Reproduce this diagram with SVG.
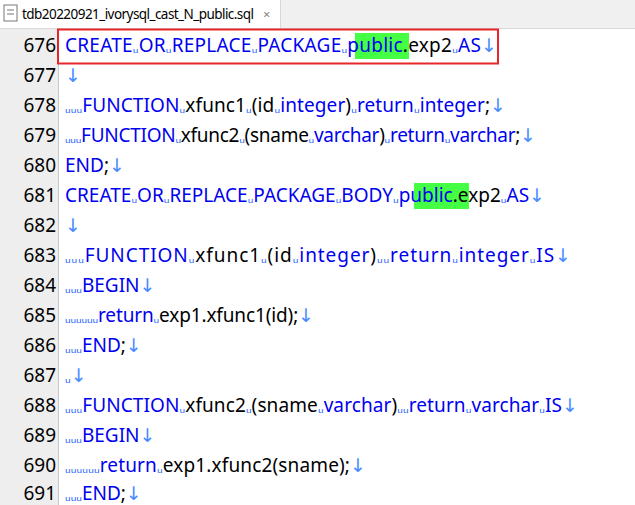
<svg xmlns="http://www.w3.org/2000/svg" width="635" height="505" viewBox="0 0 635 505">
<style>
text{font-family:"Noto Sans","DejaVu Sans",sans-serif;font-size:19px;fill:#000}
.num{text-anchor:end;fill:#000}
.k{fill:#0000f0}
.s{fill:#2060ff;font-size:14px}
.n{fill:#4a8cff}
</style>
<rect width="635" height="505" fill="#fff"/>
<rect x="0" y="0" width="635" height="29" fill="#f0f0f0"/>
<rect x="0" y="0" width="280" height="29" fill="#fff"/>
<line x1="0" y1="28.5" x2="635" y2="28.5" stroke="#d8d8d8"/>
<line x1="280.5" y1="0" x2="280.5" y2="29" stroke="#d8d8d8"/>
<g id="tab">
<rect x="4" y="5" width="13" height="16" fill="#fff" stroke="#777"/>
<line x1="7" y1="10" x2="14" y2="10" stroke="#777"/><line x1="7" y1="14" x2="14" y2="14" stroke="#777"/>
<text x="22" y="19" style="font-size:13.5px" textLength="232">tdb20220921_ivorysql_cast_N_public.sql</text>
<text x="263" y="19" style="font-size:13px;fill:#888">×</text>
</g>
<rect x="0" y="29" width="58" height="476" fill="#eeeeee"/>
<line x1="58.5" y1="29" x2="58.5" y2="505" stroke="#c8c8c8"/>
<rect x="355" y="33" width="54" height="26" fill="#44ff44"/>
<rect x="414" y="183" width="55" height="26" fill="#44ff44"/>
<g id="gutter">
<text class="num" x="56" y="52">676</text><text class="num" x="56" y="82">677</text><text class="num" x="56" y="112">678</text><text class="num" x="56" y="142">679</text><text class="num" x="56" y="172">680</text><text class="num" x="56" y="202">681</text><text class="num" x="56" y="232">682</text><text class="num" x="56" y="262">683</text><text class="num" x="56" y="292">684</text><text class="num" x="56" y="322">685</text><text class="num" x="56" y="352">686</text><text class="num" x="56" y="382">687</text><text class="num" x="56" y="412">688</text><text class="num" x="56" y="442">689</text><text class="num" x="56" y="472">690</text><text class="num" x="56" y="500">691</text>
</g>
<g id="code">
<text x="65" y="52" textLength="432"><tspan class="k">CREATE</tspan><tspan class="s">ᵤ</tspan><tspan class="k">OR</tspan><tspan class="s">ᵤ</tspan><tspan class="k">REPLACE</tspan><tspan class="s">ᵤ</tspan><tspan class="k">PACKAGE</tspan><tspan class="s">ᵤ</tspan><tspan class="k">public</tspan>.exp2<tspan class="s">ᵤ</tspan><tspan class="k">AS</tspan><tspan class="n">↓</tspan></text>
<text x="65" y="82"><tspan class="n">↓</tspan></text>
<text x="65" y="112" textLength="441"><tspan class="s">ᵤᵤᵤ</tspan><tspan class="k">FUNCTION</tspan><tspan class="s">ᵤ</tspan>xfunc1<tspan class="s">ᵤ</tspan>(id<tspan class="s">ᵤ</tspan><tspan class="k">integer</tspan>)<tspan class="s">ᵤ</tspan><tspan class="k">return</tspan><tspan class="s">ᵤ</tspan><tspan class="k">integer</tspan>;<tspan class="n">↓</tspan></text>
<text x="65" y="142" textLength="471"><tspan class="s">ᵤᵤᵤ</tspan><tspan class="k">FUNCTION</tspan><tspan class="s">ᵤ</tspan>xfunc2<tspan class="s">ᵤ</tspan>(sname<tspan class="s">ᵤ</tspan><tspan class="k">varchar</tspan>)<tspan class="s">ᵤ</tspan><tspan class="k">return</tspan><tspan class="s">ᵤ</tspan><tspan class="k">varchar</tspan>;<tspan class="n">↓</tspan></text>
<text x="65" y="172"><tspan class="k">END</tspan>;<tspan class="n">↓</tspan></text>
<text x="65" y="202" textLength="480"><tspan class="k">CREATE</tspan><tspan class="s">ᵤ</tspan><tspan class="k">OR</tspan><tspan class="s">ᵤ</tspan><tspan class="k">REPLACE</tspan><tspan class="s">ᵤ</tspan><tspan class="k">PACKAGE</tspan><tspan class="s">ᵤ</tspan><tspan class="k">BODY</tspan><tspan class="s">ᵤ</tspan><tspan class="k">public</tspan>.exp2<tspan class="s">ᵤ</tspan><tspan class="k">AS</tspan><tspan class="n">↓</tspan></text>
<text x="65" y="232"><tspan class="n">↓</tspan></text>
<text x="65" y="262" textLength="506"><tspan class="s">ᵤᵤᵤ</tspan><tspan class="k">FUNCTION</tspan><tspan class="s">ᵤ</tspan>xfunc1<tspan class="s">ᵤ</tspan>(id<tspan class="s">ᵤ</tspan><tspan class="k">integer</tspan>)<tspan class="s">ᵤᵤ</tspan><tspan class="k">return</tspan><tspan class="s">ᵤ</tspan><tspan class="k">integer</tspan><tspan class="s">ᵤ</tspan><tspan class="k">IS</tspan><tspan class="n">↓</tspan></text>
<text x="65" y="292"><tspan class="s">ᵤᵤᵤ</tspan><tspan class="k">BEGIN</tspan><tspan class="n">↓</tspan></text>
<text x="65" y="322" textLength="249"><tspan class="s">ᵤᵤᵤᵤᵤᵤ</tspan><tspan class="k">return</tspan><tspan class="s">ᵤ</tspan>exp1.xfunc1(id);<tspan class="n">↓</tspan></text>
<text x="65" y="352"><tspan class="s">ᵤᵤᵤ</tspan><tspan class="k">END</tspan>;<tspan class="n">↓</tspan></text>
<text x="65" y="382"><tspan class="s">ᵤ</tspan><tspan class="n">↓</tspan></text>
<text x="65" y="412" textLength="513"><tspan class="s">ᵤᵤᵤ</tspan><tspan class="k">FUNCTION</tspan><tspan class="s">ᵤ</tspan>xfunc2<tspan class="s">ᵤ</tspan>(sname<tspan class="s">ᵤ</tspan><tspan class="k">varchar</tspan>)<tspan class="s">ᵤᵤ</tspan><tspan class="k">return</tspan><tspan class="s">ᵤ</tspan><tspan class="k">varchar</tspan><tspan class="s">ᵤ</tspan><tspan class="k">IS</tspan><tspan class="n">↓</tspan></text>
<text x="65" y="442"><tspan class="s">ᵤᵤᵤ</tspan><tspan class="k">BEGIN</tspan><tspan class="n">↓</tspan></text>
<text x="65" y="472" textLength="301"><tspan class="s">ᵤᵤᵤᵤᵤᵤ</tspan><tspan class="k">return</tspan><tspan class="s">ᵤ</tspan>exp1.xfunc2(sname);<tspan class="n">↓</tspan></text>
<text x="65" y="500"><tspan class="s">ᵤᵤᵤ</tspan><tspan class="k">END</tspan>;<tspan class="n">↓</tspan></text>
</g>
<rect x="58" y="29.5" width="440" height="34" fill="none" stroke="#e8262a" stroke-width="2"/>
</svg>
